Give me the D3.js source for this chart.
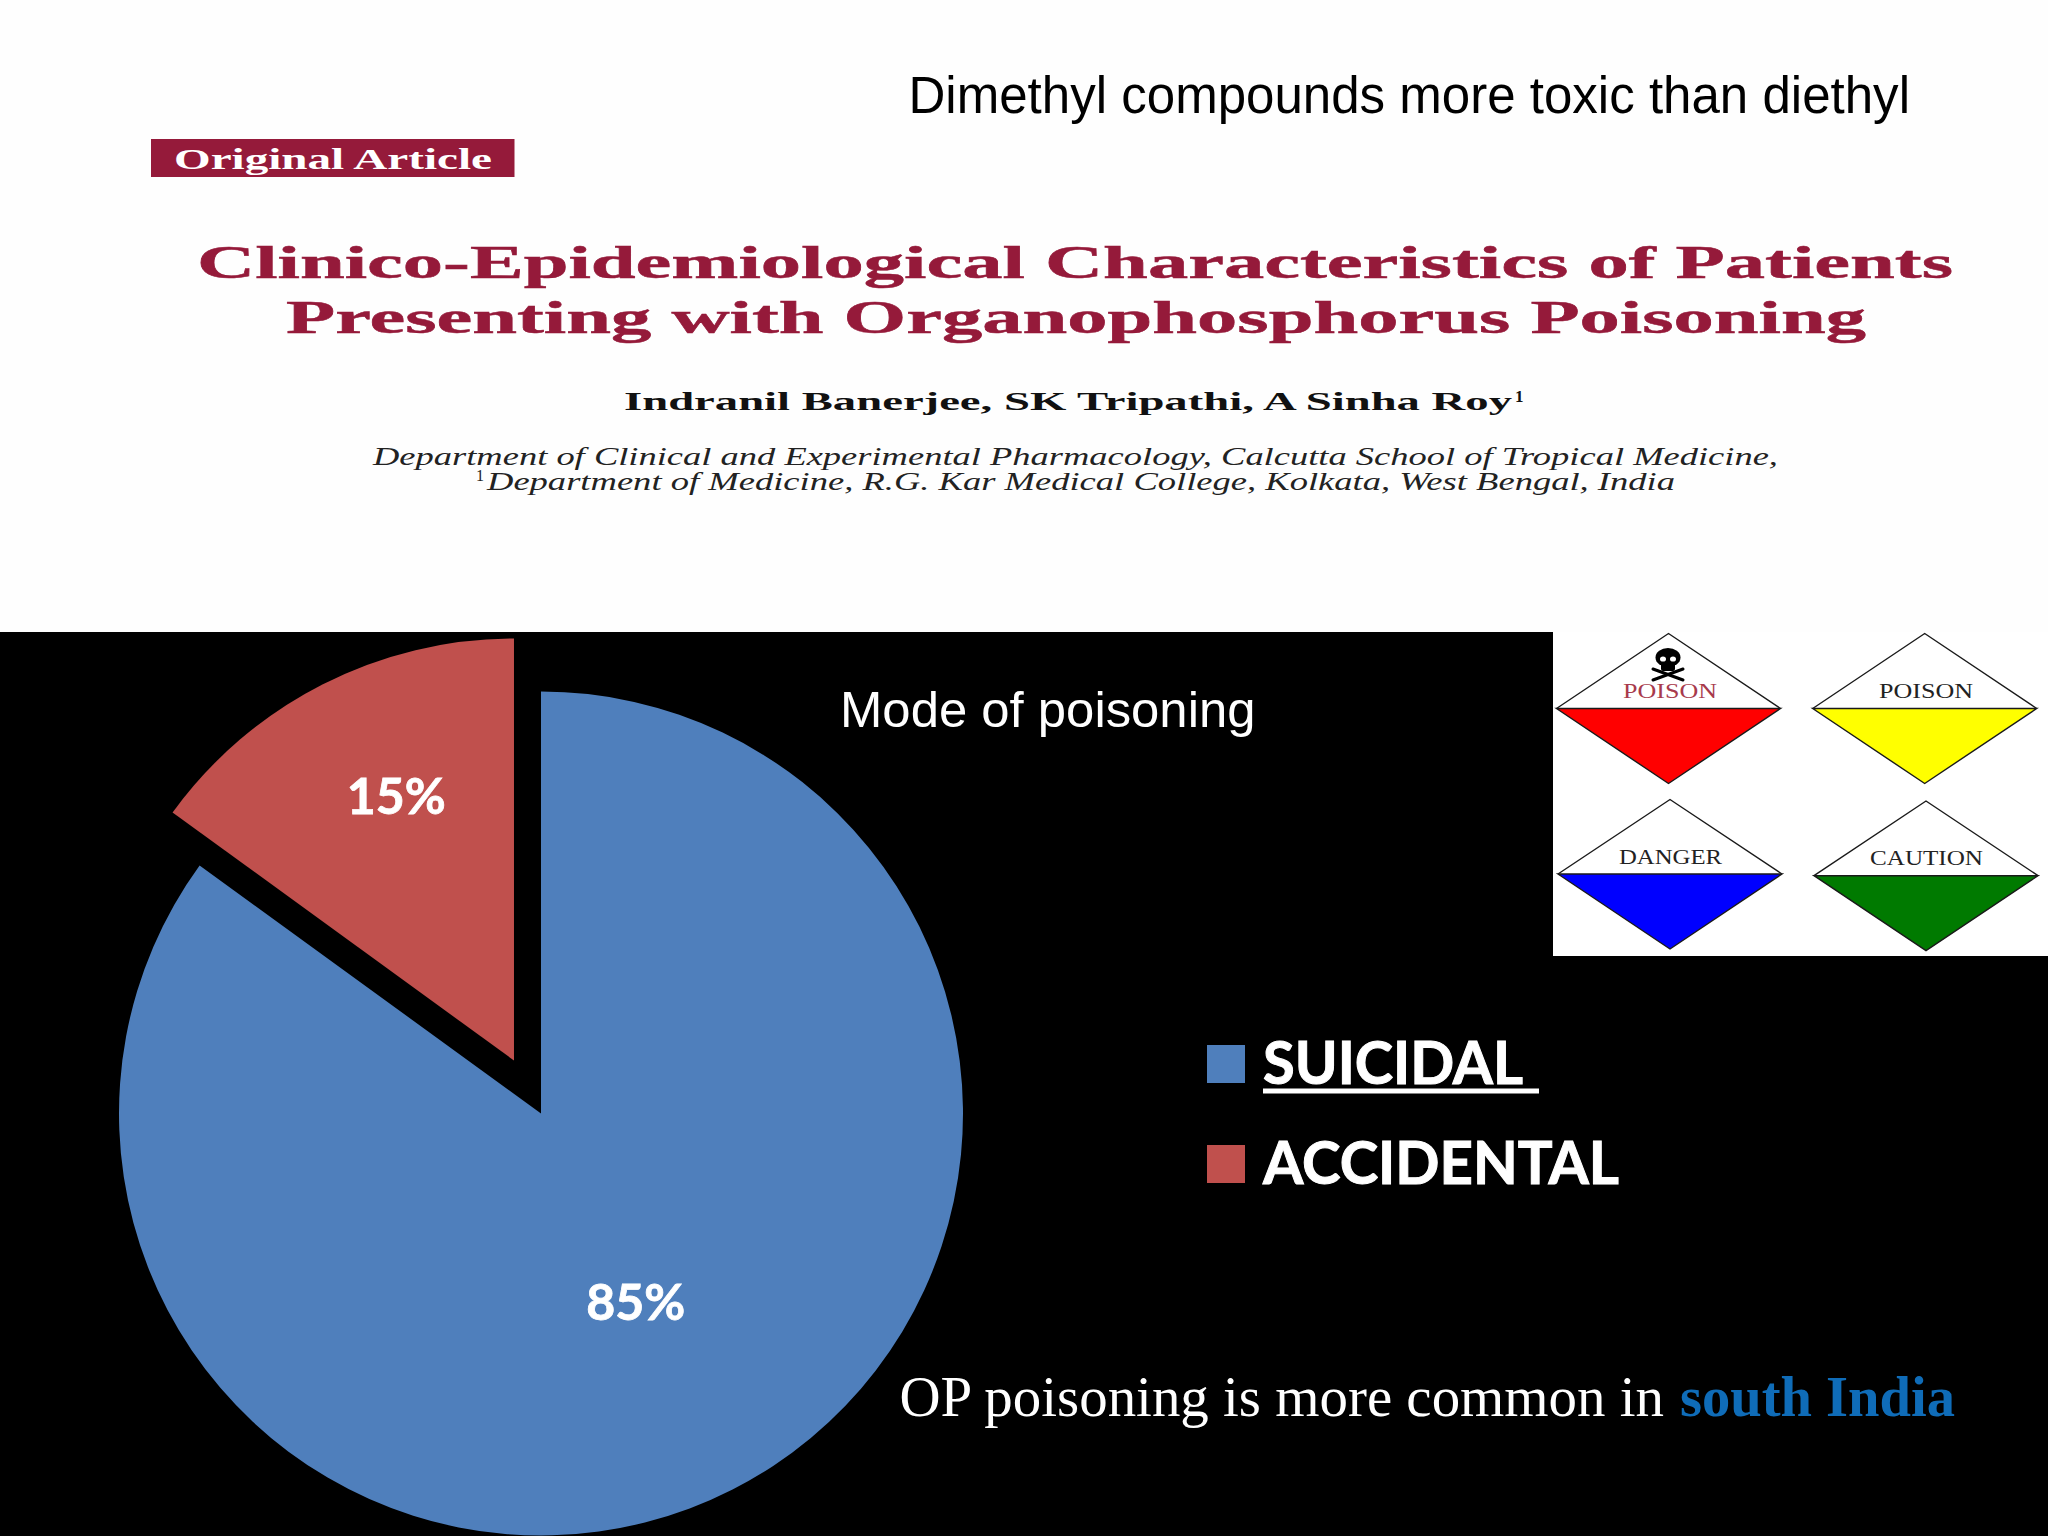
<!DOCTYPE html>
<html><head><meta charset="utf-8">
<style>html,body{margin:0;padding:0;background:#fff}svg{display:block}</style>
<script src="https://cdn.jsdelivr.net/npm/d3@7"></script></head>
<body><svg id="c" width="2048" height="1536"></svg>
<script>
// ---- data ----
const categories = ["SUICIDAL ", "ACCIDENTAL"];
const values = [85, 15];
const sliceColors = ["#4f7fbc", "#c0504d"];
const hazardLabels = ["POISON", "POISON", "DANGER", "CAUTION"];
const hazardColors = ["#ff0000", "#ffff00", "#0000ff", "#007a00"];
const hazardTextColors = ["#a83a4c", "#222222", "#222222", "#222222"];

const svg = d3.select("#c");
const serif = "'Liberation Serif', serif", sans = "'Liberation Sans', sans-serif", lato = "Lato, sans-serif";

function fit(t){ // text stretched to the span measured on the picture
  const e = svg.append("text").attr("x",t.x).attr("y",t.y).attr("font-family",t.f).attr("font-size",t.s)
    .attr("fill",t.c).attr("font-weight",t.w||"normal").attr("font-style",t.i?"italic":"normal").text(t.t);
  if(t.x2) e.attr("textLength",t.x2-t.x).attr("lengthAdjust","spacingAndGlyphs");
  if(t.sw) e.attr("stroke",t.c).attr("stroke-width",t.sw);
  return e;
}

// backgrounds
svg.append("rect").attr("width",2048).attr("height",632).attr("fill","#fefefe");
svg.append("rect").attr("y",632).attr("width",2048).attr("height",904).attr("fill","#000");

// header
const crimson = "#951a3a";
fit({t:"Dimethyl compounds more toxic than diethyl",x:908.5,x2:1910,y:112.5,s:51,f:sans,c:"#000"});
svg.append("rect").attr("x",151).attr("y",139).attr("width",363.5).attr("height",38).attr("fill",crimson);
fit({t:"Original Article",x:174,x2:492,y:168.5,s:29,f:serif,w:"bold",c:"#fff"});
fit({t:"Clinico-Epidemiological Characteristics of Patients",x:197,x2:1953,y:278,s:47,f:serif,w:"bold",c:crimson,sw:0.5});
fit({t:"Presenting with Organophosphorus Poisoning",x:286,x2:1866,y:333,s:47,f:serif,w:"bold",c:crimson,sw:0.5});
fit({t:"Indranil Banerjee, SK Tripathi, A Sinha Roy",x:624,x2:1512,y:409.5,s:25,f:serif,w:"bold",c:"#111"});
fit({t:"1",x:1515,y:402,s:17,f:serif,w:"bold",c:"#111"});
fit({t:"Department of Clinical and Experimental Pharmacology, Calcutta School of Tropical Medicine,",x:373,x2:1778,y:465,s:25,f:serif,i:true,c:"#222"});
fit({t:"1",x:476,y:481,s:16,f:serif,c:"#222"});
fit({t:"Department of Medicine, R.G. Kar Medical College, Kolkata, West Bengal, India",x:487,x2:1675,y:490,s:25,f:serif,i:true,c:"#222"});

// pie
const R = 422, cx = 541, cy = 1113.5, explode = 59.5;
const pie = d3.pie().sort(null).value(d=>d);
const arcs = pie(values);
const arc = d3.arc().innerRadius(0).outerRadius(R);
const labelNudge = [[-1,0],[-22,-76]];
const pieG = svg.append("g").attr("transform",`translate(${cx},${cy})`);
const slices = pieG.selectAll("g").data(arcs).join("g")
  .attr("transform",(d,i)=>{
    if(i===0) return null;
    const a=(d.startAngle+d.endAngle)/2;
    return `translate(${explode*Math.sin(a)},${-explode*Math.cos(a)})`;
  });
slices.append("path").attr("d",arc).attr("fill",(d,i)=>sliceColors[i]);
slices.append("text").attr("text-anchor","middle").attr("font-family",lato).attr("font-weight","bold")
  .attr("font-size",50).attr("fill","#fff").attr("stroke","#fff").attr("stroke-width",0.8)
  .attr("x",(d,i)=>arc.centroid(d)[0]+labelNudge[i][0])
  .attr("y",(d,i)=>arc.centroid(d)[1]+labelNudge[i][1]+18)
  .text(d=>d.data+"%");

// chart title
fit({t:"Mode of poisoning",x:840,x2:1255.5,y:727,s:50,f:sans,c:"#fff"});

// legend
const legY = d3.scalePoint().domain(categories).range([1084,1184]);
const leg = svg.selectAll("g.leg").data(categories).join("g").attr("class","leg");
leg.append("rect").attr("x",1207).attr("y",(d,i)=>(i?1145:1045)).attr("width",38).attr("height",38)
  .attr("fill",(d,i)=>sliceColors[i]);
leg.append("text").attr("x",1263).attr("y",d=>legY(d)).attr("font-family",lato).attr("font-weight","bold")
  .attr("font-size",60).attr("fill","#fff").attr("stroke","#fff").attr("stroke-width",1)
  .attr("textLength",(d,i)=>i?356:260)
  .attr("lengthAdjust","spacingAndGlyphs").text(d=>d.trim());
svg.append("rect").attr("x",1263).attr("y",1088.5).attr("width",276).attr("height",5).attr("fill","#fff");

// bottom note
fit({t:"OP poisoning is more common in",x:899.5,x2:1664,y:1416,s:57,f:serif,c:"#fff"});
fit({t:"south India",x:1680,x2:1955,y:1416,s:57,f:serif,w:"bold",c:"#0f6cb8"});

// hazard panel
svg.append("rect").attr("x",1553).attr("y",632).attr("width",495).attr("height",324).attr("fill","#fff");
const dia = [[1668.5,633.5,708.5,783.5],[1924.7,633.5,708.5,783.5],[1670,799.5,874,949],[1926,801,875.7,950.7]];
const textSpan = [[1623,1717,698],[1879,1973,698],[1619,1722,864],[1870,1983,865]];
const hw = 112;
const line = d3.line();
hazardLabels.forEach((lab,i)=>{
  const [x,t,m,b]=dia[i];
  svg.append("path").attr("d",line([[x-hw,m],[x+hw,m],[x,b]])+"Z").attr("fill",hazardColors[i]).attr("stroke","#1a1a1a").attr("stroke-width",1.4);
  svg.append("path").attr("d",line([[x-hw,m],[x,t],[x+hw,m]])).attr("fill","none").attr("stroke","#1a1a1a").attr("stroke-width",1.4);
  fit({t:lab,x:textSpan[i][0],x2:textSpan[i][1],y:textSpan[i][2],s:20,f:serif,c:hazardTextColors[i]});
});
// skull and crossbones
const sk = svg.append("g").attr("transform","translate(1668,648)");
sk.append("path").attr("d","M-15,21L15,32M15,21L-15,32").attr("stroke","#000").attr("stroke-width",3).attr("stroke-linecap","round");
sk.append("ellipse").attr("cy",9.5).attr("rx",12.5).attr("ry",9.5).attr("fill","#000");
sk.append("rect").attr("x",-7).attr("y",14).attr("width",14).attr("height",9).attr("rx",2).attr("fill","#000");
sk.append("ellipse").attr("cx",-5).attr("cy",11).attr("rx",3).attr("ry",2.6).attr("fill","#fff");
sk.append("ellipse").attr("cx",5).attr("cy",11).attr("rx",3).attr("ry",2.6).attr("fill","#fff");
</script></body></html>
